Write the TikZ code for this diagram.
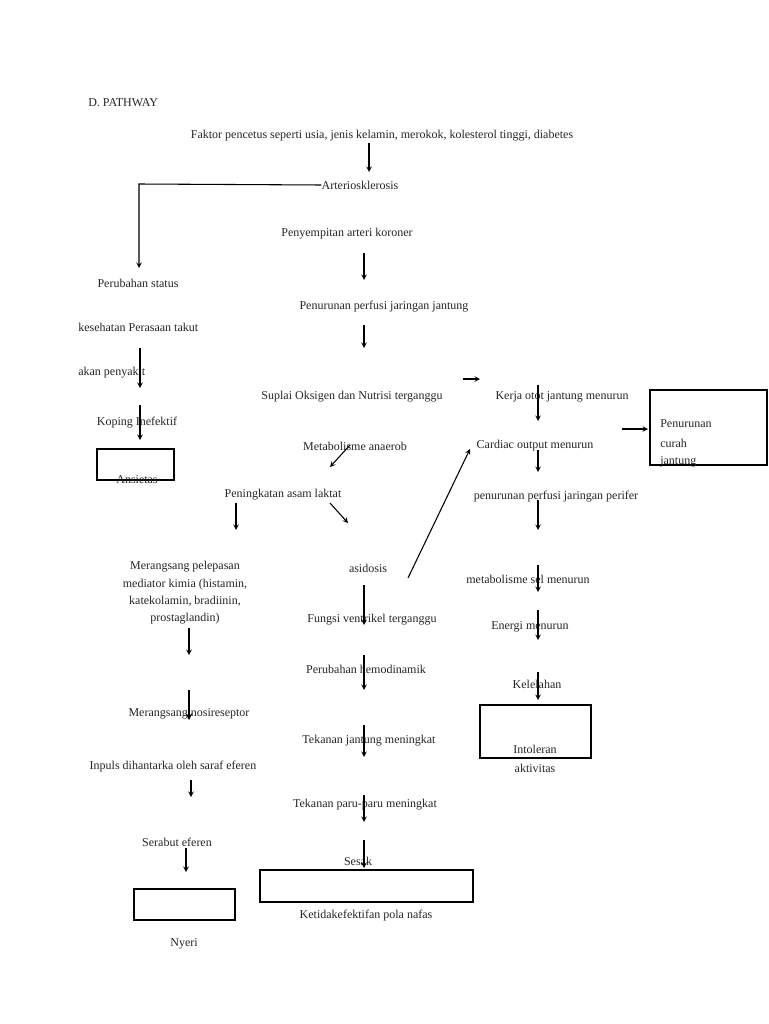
\documentclass[tikz,border=0pt]{standalone}
\usepackage{fontspec}
\setmainfont{Liberation Serif}
\begin{document}
\begin{tikzpicture}[x=0.75pt,y=-0.75pt,
  t/.style={inner sep=0pt,font=\fontsize{9}{11}\selectfont,text=black!85},
  ar/.style={-stealth,line width=0.8pt},
  bx/.style={draw,line width=1.4pt}]
\useasboundingbox[fill=white] (0,0) rectangle (768,1024);
\node[t,anchor=west] (dp) at (88,103) {D. PATHWAY};
\node[t] (f) at (382,136) {Faktor pencetus seperti usia, jenis kelamin, merokok, kolesterol tinggi, diabetes};
\node[t] (ar1) at (360,185) {Arteriosklerosis};
\node[t] (pk) at (347,234) {Penyempitan arteri koroner};
\node[t] (ps) at (138,283) {Perubahan status};
\node[t] (pp) at (384,307) {Penurunan perfusi jaringan jantung};
\node[t,anchor=west] (kp) at (78,327) {kesehatan Perasaan takut};
\node[t,anchor=west] (ap) at (78,373) {akan penyakit};
\node[t] (ki) at (137,423) {Koping Inefektif};
\draw[bx] (97,449) rectangle (174,480);
\node[t] (an) at (137,480) {Ansietas};
\node[t] (so) at (352,397) {Suplai Oksigen dan Nutrisi terganggu};
\node[t] (ko) at (562,397) {Kerja otot jantung menurun};
\draw[bx] (650,390) rectangle (767,465);
\node[t,anchor=west,align=left] (pc) at (660,424) {Penurunan};
\node[t,anchor=west] at (660,443) {curah};
\node[t,anchor=west] at (660,462) {jantung};
\node[t] (ma) at (355,446) {Metabolisme anaerob};
\node[t] (co) at (535,446) {Cardiac output menurun};
\node[t] (al) at (283,495) {Peningkatan asam laktat};
\node[t] (pj) at (556,497) {penurunan perfusi jaringan perifer};
\node[t,align=center] (mp) at (185,593) {Merangsang pelepasan\\[2pt]mediator kimia (histamin,\\[2pt]katekolamin, bradiinin,\\[2pt]prostaglandin)};
\node[t] (as) at (368,568) {asidosis};
\node[t] (ms) at (528,579) {metabolisme sel menurun};
\node[t] (fv) at (372,620) {Fungsi ventrikel terganggu};
\node[t] (em) at (530,627) {Energi menurun};
\node[t] (ph) at (366,669) {Perubahan hemodinamik};
\node[t] (kl) at (537,684) {Kelelahan};
\node[t] (mn) at (189,714) {Merangsang nosireseptor};
\draw[bx] (480,705) rectangle (591,758);
\node[t] (ia) at (535,749) {Intoleran};
\node[t] at (535,768) {aktivitas};
\node[t] (tj) at (369,741) {Tekanan jantung meningkat};
\node[t] (ip) at (173,767) {Inpuls dihantarka oleh saraf eferen};
\node[t] (tp) at (365,805) {Tekanan paru-paru meningkat};
\node[t] (se) at (177,842) {Serabut eferen};
\node[t] (ss) at (358,861) {Sesak};
\draw[bx] (260,870) rectangle (473,902);
\node[t] (kf) at (366,916) {Ketidakefektifan pola nafas};
\draw[bx] (134,889) rectangle (235,920);
\node[t] (ny) at (184,944) {Nyeri};
% arrows
\draw[ar] (369,143) -- (369,172);
\draw[ar] (ar1.west) -- (139,184) -- (139,268);
\draw[ar] (364,253) -- (364,280);
\draw[ar] (364,325) -- (364,348);
\draw[ar] (140,348) -- (140,388);
\draw[ar] (140,405) -- (140,440);
\draw[ar] (463,379) -- (480,379);
\draw[ar] (538,385) -- (538,421);
\draw[ar] (622,429) -- (648,429);
\draw[ar] (350,445) -- (330,467);
\draw[ar] (538,450) -- (538,472);
\draw[ar] (408,578) -- (470,449);
\draw[ar] (236,503) -- (236,530);
\draw[ar] (330,503) -- (348,523);
\draw[ar] (538,500) -- (538,530);
\draw[ar] (364,585) -- (364,625);
\draw[ar] (538,565) -- (538,592);
\draw[ar] (189,628) -- (189,655);
\draw[ar] (538,610) -- (538,640);
\draw[ar] (364,655) -- (364,690);
\draw[ar] (538,672) -- (538,700);
\draw[ar,line width=1.2pt] (189,690) -- (189,720);
\draw[ar] (364,725) -- (364,757);
\draw[ar] (191,780) -- (191,797);
\draw[ar] (364,795) -- (364,822);
\draw[ar] (186,848) -- (186,872);
\draw[ar] (364,840) -- (364,868);
\end{tikzpicture}
\end{document}
